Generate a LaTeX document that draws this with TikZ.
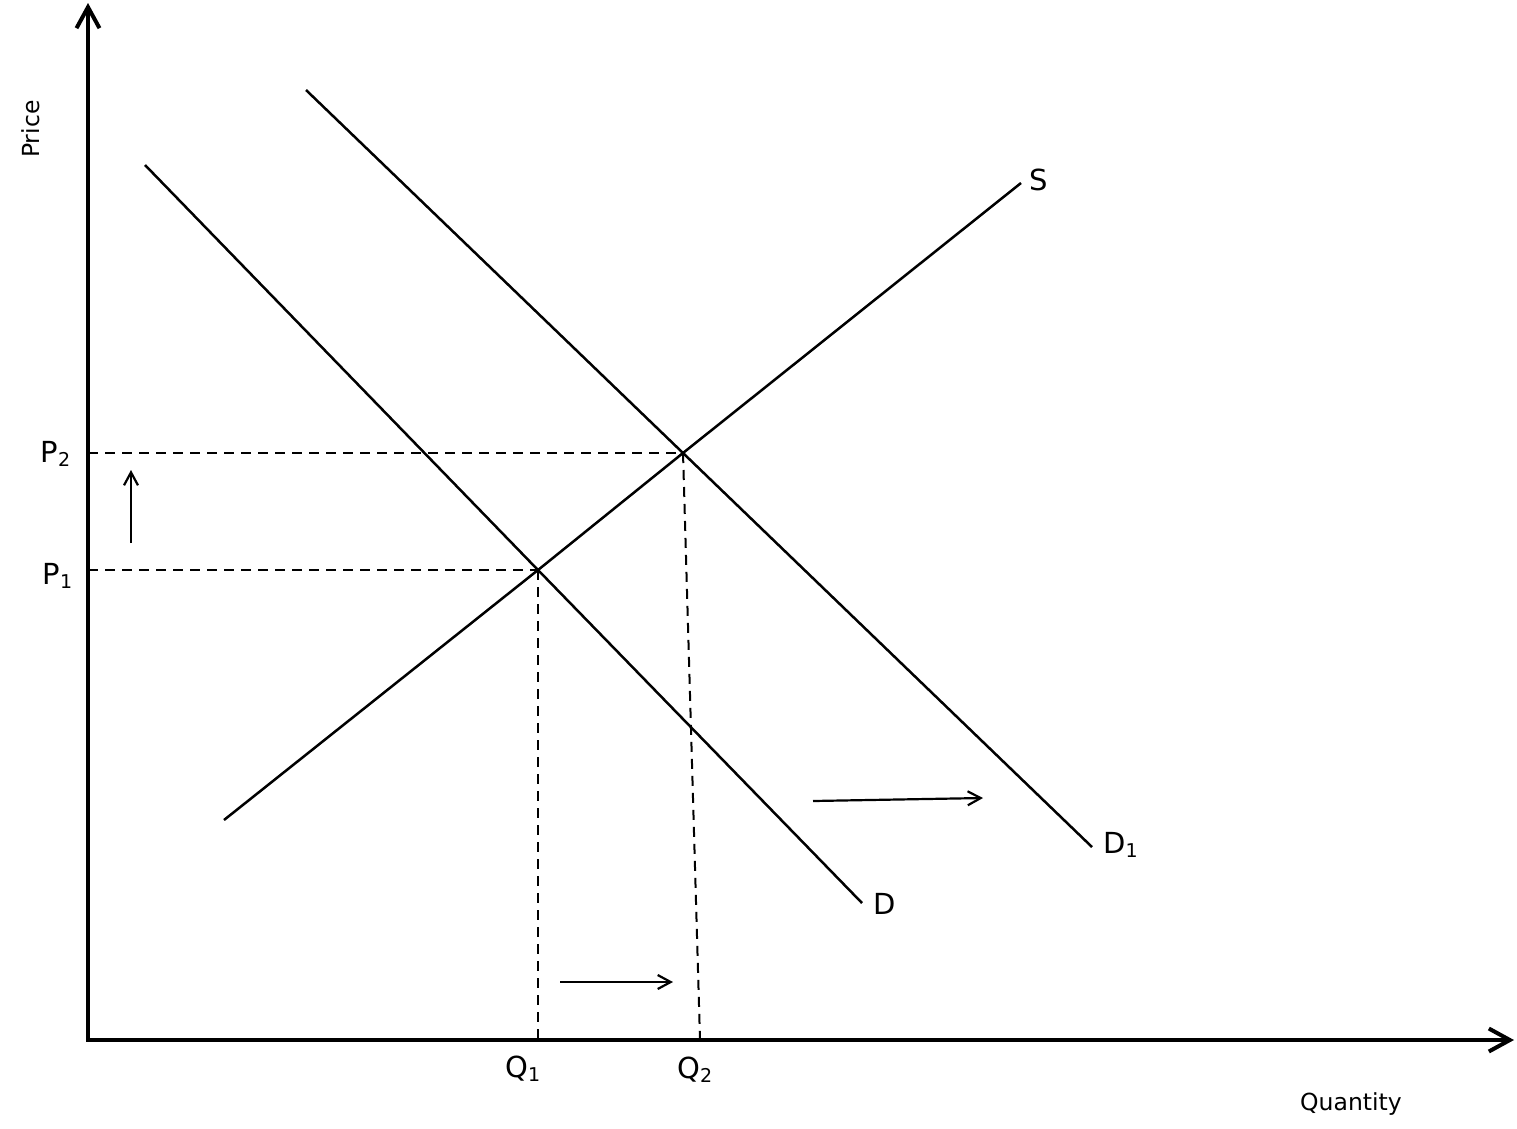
\documentclass[tikz,border=0pt]{standalone}
\usepackage{fontspec}
\setmainfont{DejaVu Sans}
\usetikzlibrary{arrows.meta}
\newcommand\subl[1]{\raisebox{-0.3ex}{\fontsize{19}{19}\selectfont #1}}
\tikzset{
  curve/.style={line width=2.5pt, line cap=butt},
  axisline/.style={line width=4pt, line join=miter, {Straight Barb[length=21pt,width=23pt]}-{Straight Barb[length=21pt,width=23pt]}},
  guide/.style={line width=2pt, dash pattern=on 10pt off 7pt},
  shift arrow/.style={line width=2.2pt, -{Straight Barb[length=13pt,width=14pt]}},
  lab/.style={inner sep=0pt, anchor=base west, font=\fontsize{29}{29}\selectfont},
  axlab/.style={inner sep=0pt, anchor=base west, font=\fontsize{23.5}{23.5}\selectfont},
}
\begin{document}
\begin{tikzpicture}[x=1pt,y=-1pt]
\useasboundingbox (0,0) rectangle (1517,1128);
% coordinates
\coordinate (O) at (88,1040);
\coordinate (Ytip) at (88,3);
\coordinate (Xtip) at (1514,1040);
\coordinate (E1) at (538,570);
\coordinate (E2) at (683,453);
\coordinate (Sa) at (224,820);
\coordinate (Sb) at (1021,183);
\coordinate (Da) at (145,165);
\coordinate (Db) at (862,903);
\coordinate (Dna) at (306,90);
\coordinate (Dnb) at (1092,847);
\coordinate (P1) at (88,570);
\coordinate (P2) at (88,453);
\coordinate (Q1) at (538,1040);
\coordinate (Q2) at (700,1040);
\coordinate (UpA) at (131,543);
\coordinate (UpB) at (131,470);
\coordinate (RtA) at (813,801);
\coordinate (RtB) at (983,798);
\coordinate (BtA) at (560,982);
\coordinate (BtB) at (673,982);
% guides
\draw[guide] (P2) -- (E2);
\draw[guide] (P1) -- (E1);
\draw[guide] (E1) -- (Q1);
\draw[guide] (E2) -- (Q2);
% curves
\draw[curve] (Sa) -- (E1) -- (E2) -- (Sb);
\draw[curve] (Da) -- (E1) -- (Db);
\draw[curve] (Dna) -- (E2) -- (Dnb);
% axes
\draw[axisline] (Ytip) -- (O) -- (Xtip);
% shift arrows
\draw[shift arrow] (UpA) -- (UpB);
\draw[shift arrow] (RtA) -- (RtB);
\draw[shift arrow] (BtA) -- (BtB);
% labels
\node[lab] (lP2) at (40.5,462) {P\subl{2}};
\node[lab] (lP1) at (42.5,584) {P\subl{1}};
\node[lab] (lQ1) at (505,1077) {Q\subl{1}};
\node[lab] (lQ2) at (677,1078) {Q\subl{2}};
\node[lab] (lS) at (1029,190) {S};
\node[lab] (lD) at (873,914) {D};
\node[lab] (lD1) at (1103,853) {D\subl{1}};
\node[axlab] (lQ) at (1300,1110) {Quantity};
\node[axlab, rotate=90] (lPr) at (39.5,158) {Price};
\end{tikzpicture}
\end{document}
